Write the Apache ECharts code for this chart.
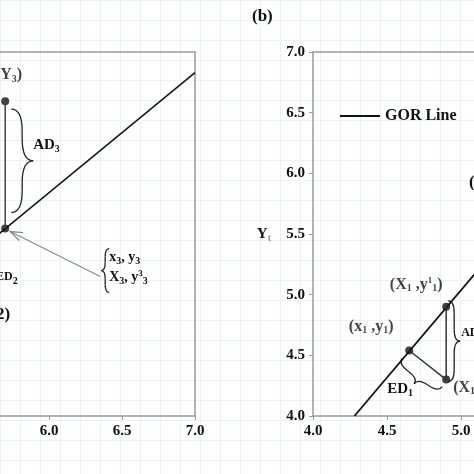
<!DOCTYPE html>
<html>
<head>
<meta charset="utf-8">
<script src="https://cdn.jsdelivr.net/npm/echarts@6/dist/echarts.min.js"></script>
<style>
  body { margin: 0; background-color: #fff;
    background-image: linear-gradient(#e6f4f6 1px, transparent 1px), linear-gradient(90deg, #e6f4f6 1px, transparent 1px);
    background-size: 20px 20px; }
  #chart { width: 474px; height: 474px; }
</style>
</head>
<body>
<div id="chart"></div>
<script>
// panel (a), right part visible
var lineA = [[5.0, 4.85], [7.0, 6.83]];
var pointsA = [[5.70, 5.545], [5.70, 6.595]];
var ticksA = [6.0, 6.5, 7.0];
// panel (b), left part visible
var lineB = [[4.28, 4.0], [5.6, 5.9]];
var pointsB = [[4.65, 4.54], [4.90, 4.90], [4.90, 4.30]];
var ticksB = [4.0, 4.5, 5.0];
var yTicks = [4.0, 4.5, 5.0, 5.5, 6.0, 6.5, 7.0];

var font = 'Liberation Serif';
var rich = {
  s: { fontSize: 10, fontFamily: font, fontWeight: 'bold', verticalAlign: 'bottom', padding: [8, 0, 0, 0] },
  u: { fontSize: 9, fontFamily: font, fontWeight: 'bold', padding: [0, 0, 8, 0] }
};

var chart = echarts.init(document.getElementById('chart'));

function valAxis(idx, pos, min, max, ticks) {
  var show = !!ticks;
  return {
    type: 'value', gridIndex: idx, position: pos, min: min, max: max,
    axisLine: { show: true, lineStyle: { color: '#999', width: 1.5 } },
    axisTick: { show: show, length: 4, customValues: ticks || [], lineStyle: { color: '#999' } },
    axisLabel: { show: show, customValues: ticks || [], color: '#111', fontFamily: font, fontWeight: 'bold', fontSize: 15,
      formatter: function (v) { return (+v).toFixed(1); } },
    splitLine: { show: false }
  };
}

var xMinA = 7.0 - 195 / 146, xMaxB = 4.0 + 161 / 148;
var xa0 = valAxis(0, 'bottom', xMinA, 7, ticksA), xa1 = valAxis(0, 'top', xMinA, 7);
var ya0 = valAxis(0, 'left', 4, 7), ya1 = valAxis(0, 'right', 4, 7);
ya0.axisLine.show = false;
var xb0 = valAxis(1, 'bottom', 4, xMaxB, ticksB), xb1 = valAxis(1, 'top', 4, xMaxB);
var yb0 = valAxis(1, 'left', 4, 7, yTicks), yb1 = valAxis(1, 'right', 4, 7);
yb1.axisLine.show = false;
yb0.name = '{b|Y}{s|t}'; yb0.nameLocation = 'middle'; yb0.nameRotate = 0; yb0.nameGap = 42;
yb0.nameTextStyle = { rich: { b: { fontSize: 15, fontFamily: font, fontWeight: 'bold', color: '#111' }, s: rich.s } };

function lbl(text, pos, offset) {
  return { show: true, formatter: text, position: pos, offset: offset || [0, 0], color: '#111',
    fontFamily: font, fontWeight: 'bold', fontSize: 16, rich: rich };
}

chart.setOption({
  animation: false,
  grid: [
    { left: 0, right: 279, top: 52, bottom: 58 },
    { left: 313, right: 0, top: 52, bottom: 58 }
  ],
  xAxis: [xa0, xa1, xb0, xb1],
  yAxis: [ya0, ya1, yb0, yb1],
  legend: {
    data: ['GOR Line'], left: 335, top: 103, itemWidth: 40, itemGap: 8, icon: 'rect',
    itemHeight: 2, textStyle: { fontFamily: font, fontWeight: 'bold', fontSize: 16, color: '#111' }
  },
  series: [
    { name: 'GOR Line', type: 'line', xAxisIndex: 0, yAxisIndex: 0, data: lineA, symbol: 'none',
      itemStyle: { color: '#111' }, lineStyle: { color: '#111', width: 1.5 } },
    { type: 'line', xAxisIndex: 0, yAxisIndex: 0, data: pointsA, symbol: 'none',
      lineStyle: { color: '#444', width: 1.5 } },
    { type: 'scatter', xAxisIndex: 0, yAxisIndex: 0, symbolSize: 8, itemStyle: { color: '#111' },
      data: [
        { value: pointsA[0] },
        { value: pointsA[1], label: lbl('Y{s|3})', 'top', [6, -8]) }
      ] },
    { name: 'GOR Line', type: 'line', xAxisIndex: 2, yAxisIndex: 2, data: lineB, symbol: 'none',
      itemStyle: { color: '#111' }, lineStyle: { color: '#111', width: 1.8 } },
    { type: 'line', xAxisIndex: 2, yAxisIndex: 2, data: [pointsB[1], pointsB[2], pointsB[0]], symbol: 'none',
      lineStyle: { color: '#333', width: 1.5 } },
    { type: 'scatter', xAxisIndex: 2, yAxisIndex: 2, symbolSize: 8, itemStyle: { color: '#111' },
      data: [
        { value: pointsB[0], label: lbl('(x{s|1} ,y{s|1})', 'top', [-38, -6]) },
        { value: pointsB[1], label: lbl('(X{s|1} ,y{u|1}{s|1})', 'top', [-30, -4]) },
        { value: pointsB[2], label: lbl('(X{s|1} ,Y{s|1})', 'right', [-2, 8]) }
      ] }
  ]
});

// annotations on the figure
function px(g, p) { return chart.convertToPixel({ gridIndex: g }, p); }
function brace(p, q, w) {
  var dx = q[0] - p[0], dy = q[1] - p[1], L = Math.sqrt(dx * dx + dy * dy);
  var ux = dx / L, uy = dy / L, nx = -uy, ny = ux, r = Math.min(Math.abs(w), L / 4), m = L / 2;
  function t(a, b) { return [p[0] + ux * a + nx * b, p[1] + uy * a + ny * b]; }
  function bz(a, c, b) {
    return { type: 'bezierCurve', shape: { x1: a[0], y1: a[1], cpx1: c[0], cpy1: c[1], x2: b[0], y2: b[1] },
      style: { stroke: '#222', lineWidth: 1.3, fill: null } };
  }
  function ln(a, b) {
    return { type: 'line', shape: { x1: a[0], y1: a[1], x2: b[0], y2: b[1] }, style: { stroke: '#222', lineWidth: 1.3 } };
  }
  var h = w / 2;
  return [
    bz(t(0, 0), t(0, h), t(r, h)), ln(t(r, h), t(m - r, h)),
    bz(t(m - r, h), t(m, h), t(m, w)), bz(t(m, w), t(m, h), t(m + r, h)),
    ln(t(m + r, h), t(L - r, h)), bz(t(L - r, h), t(L, h), t(L, 0))
  ];
}
function txt(x, y, s, size) {
  return { type: 'text', x: x, y: y, style: { text: s, fill: '#111', font: 'bold ' + (size || 15) + 'px ' + font, rich: rich } };
}

var a0 = px(0, pointsA[0]), a1 = px(0, pointsA[1]);
var b0 = px(1, pointsB[0]), b1 = px(1, pointsB[1]), b2 = px(1, pointsB[2]);
var g = [];
g = g.concat(brace([a0[0] + 6, a1[1] + 8], [a0[0] + 6, a0[1] - 16], -22));
g.push(txt(a0[0] + 28, 136, 'AD{s|3}'));
g.push({ type: 'line', shape: { x1: a0[0] + 95, y1: a0[1] + 48, x2: a0[0] + 5, y2: a0[1] + 3 },
  style: { stroke: '#888', lineWidth: 1.2 } });
g.push({ type: 'polyline', shape: { points: [[a0[0] + 14, a0[1] + 12], [a0[0] + 5, a0[1] + 3], [a0[0] + 18, a0[1] + 4]] },
  style: { stroke: '#888', lineWidth: 1.2, fill: null } });
g = g.concat(brace([a0[0] + 104, a0[1] + 64], [a0[0] + 104, a0[1] + 20], -8));
g.push(txt(a0[0] + 104, a0[1] + 20, 'x{s|3}, y{s|3}', 14));
g.push(txt(a0[0] + 104, a0[1] + 40, 'X{s|3}, y{u|3}{s|3}', 14));
g.push(txt(-4, 268, 'ED{s|2}', 12));
g.push(txt(-4, 306, '2)', 17));
g = g.concat(brace([b1[0] + 2, b1[1] - 6], [b2[0] + 2, b2[1] + 2], -12));
g.push(txt(b1[0] + 15, b1[1] + 20, 'AD', 12));
g = g.concat(brace([b0[0] - 7, b0[1] + 8], [b2[0] - 4, b2[1] + 7], 14));
g.push(txt(b0[0] - 22, b0[1] + 30, 'ED{s|1}', 15));
g.push(txt(252, 8, '(b)', 17));
g.push(txt(469, 174, '(', 17));
chart.setOption({ graphic: g });
</script>
</body>
</html>
